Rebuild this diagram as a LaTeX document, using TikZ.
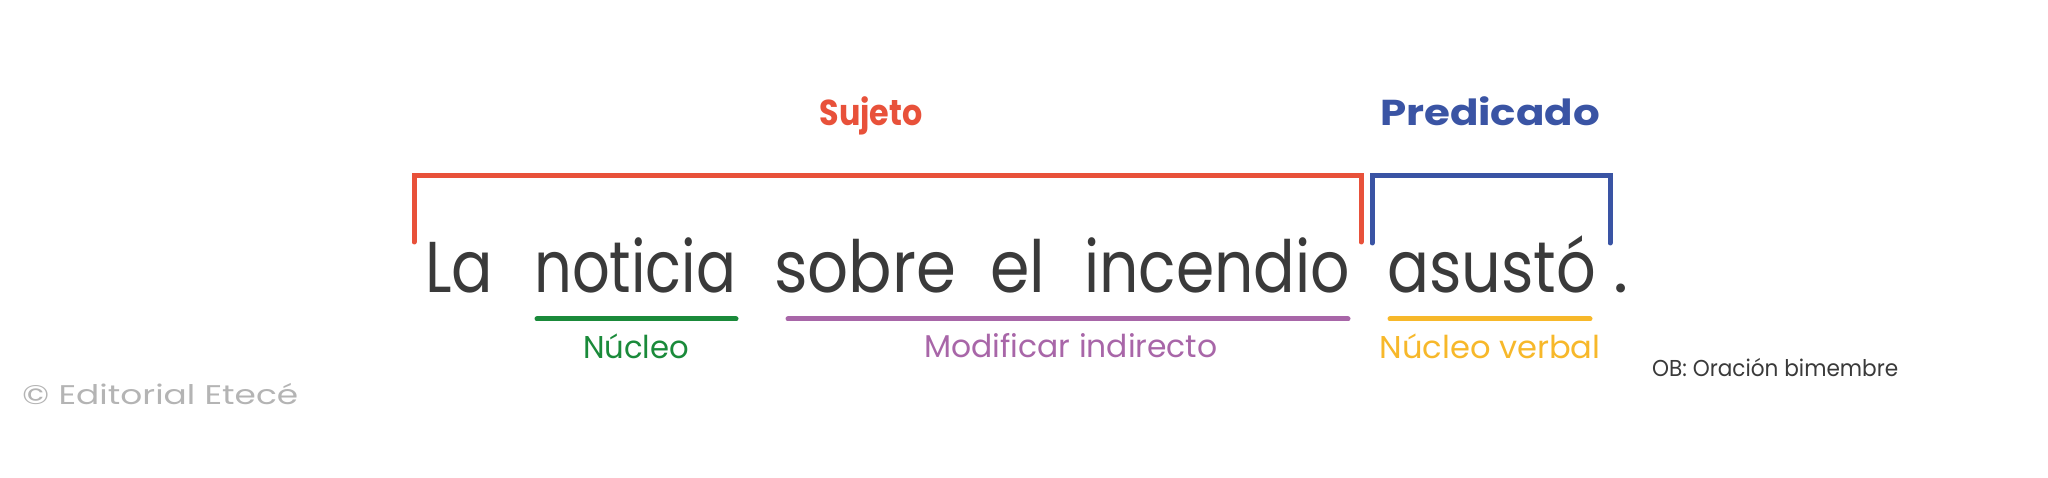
\documentclass[tikz,border=0pt]{standalone}
\usepackage{graphicx}
\usepackage{fontspec}
\setmainfont{Poppins}
\definecolor{redc}{HTML}{E8513A}
\definecolor{bluec}{HTML}{3A54A4}
\definecolor{greenc}{HTML}{1A8A3A}
\definecolor{purplec}{HTML}{A866A8}
\definecolor{yellowc}{HTML}{F7B82A}
\definecolor{darkc}{HTML}{3A3A3A}
\definecolor{grayc}{HTML}{B4B4B4}
\newcommand{\fitw}[2]{\resizebox{#1pt}{\height}{#2}}
\tikzset{
  word/.style={anchor=base west, inner sep=0pt, text=darkc, font=\fontsize{72}{80}\selectfont},
  head/.style={anchor=base, inner sep=0pt, font=\fontsize{36}{40}\selectfont\bfseries},
  lab/.style={anchor=base, inner sep=0pt, font=\fontsize{31.5}{34}\selectfont},
  bracket/.style={line width=5pt, line cap=round, line join=miter},
  uline/.style={line width=5pt, line cap=round}
}
\begin{document}
\begin{tikzpicture}[x=1pt,y=-1pt]
\useasboundingbox (0,0) rectangle (2048,478);
% headings
\node[head, text=redc] (suj) at (871,126) {\fitw{103}{Sujeto}};
\node[head, text=bluec] (pred) at (1490,126) {\fitw{220}{Predicado}};
% brackets
\coordinate (s1) at (414,242); \coordinate (s2) at (414,176);
\coordinate (s3) at (1361,176); \coordinate (s4) at (1361,242);
\draw[bracket, redc] (s1) -- (s2) -- (s3) -- (s4);
\coordinate (p1) at (1372,243); \coordinate (p2) at (1372,176);
\coordinate (p3) at (1610,176); \coordinate (p4) at (1610,243);
\draw[bracket, bluec] (p1) -- (p2) -- (p3) -- (p4);
% words
\node[word] (w1) at (425,293) {\fitw{68}{La}};
\node[word] (w2) at (534,293) {\fitw{202}{noticia}};
\node[word] (w3) at (774,293) {\fitw{182}{sobre}};
\node[word] (w4) at (990,293) {\fitw{55}{el}};
\node[word] (w5) at (1084,293) {\fitw{266}{incendio}};
\node[word] (w6) at (1387,293) {\fitw{209}{asustó}};
\node[word] (w7) at (1613,293) {.};
% underlines
\coordinate (g1) at (537,319); \coordinate (g2) at (736,319);
\draw[uline, greenc] (g1) -- (g2);
\coordinate (m1) at (788,319); \coordinate (m2) at (1348,319);
\draw[uline, purplec] (m1) -- (m2);
\coordinate (y1) at (1390,319); \coordinate (y2) at (1590,319);
\draw[uline, yellowc] (y1) -- (y2);
% labels
\node[lab, text=greenc] (l1) at (636,358) {\fitw{106}{Núcleo}};
\node[lab, text=purplec] (l2) at (1071,358) {\fitw{293}{Modificar indirecto}};
\node[lab, text=yellowc] (l3) at (1490,358) {\fitw{221}{Núcleo verbal}};
\node[anchor=base west, inner sep=0pt, text=darkc, font=\fontsize{23}{26}\selectfont] (ob) at (1652,376) {\fitw{246}{OB: Oración bimembre}};
\node[anchor=base west, inner sep=0pt, text=grayc, font=\fontsize{27}{30}\selectfont] (cp) at (22,404) {\fitw{276}{© Editorial Etecé}};
\end{tikzpicture}
\end{document}
